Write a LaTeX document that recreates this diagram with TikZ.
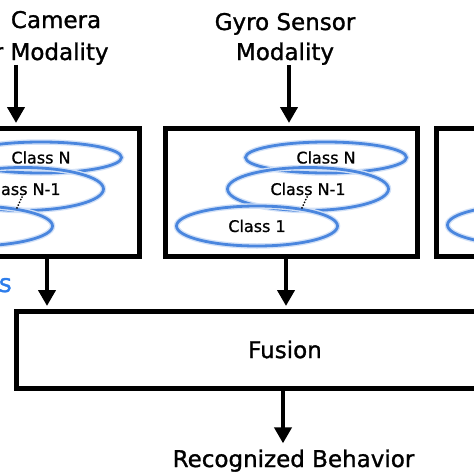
\documentclass[tikz,border=0pt]{standalone}
\usepackage{fontspec}
\setmainfont{DejaVu Sans}
\newfontfamily\heavyfont[FakeBold=1.2]{DejaVu Sans}
\newfontfamily\classfont[FakeBold=0.8]{DejaVu Sans}
\usetikzlibrary{shapes.geometric,arrows.meta}
\definecolor{clsblue}{RGB}{74,134,222}
\definecolor{txtblue}{RGB}{45,125,235}

\begin{document}
\begin{tikzpicture}[x=1pt, y=-1pt,
        big/.style={font=\heavyfont\fontsize{23}{28}\selectfont, inner sep=0pt},
        box/.style={draw=black, line width=5pt, minimum width=252pt, minimum height=128pt, inner sep=0pt},
        cls/.style={ellipse, draw=clsblue, line width=2.8pt, inner sep=0pt, minimum width=161pt,
            font=\classfont\fontsize{16}{18}\selectfont, preaction={draw=clsblue!25, line width=5.5pt}},
        arr/.style={line width=4.5pt, -{Triangle[length=16pt,width=17pt]}},
        dots/.style={line width=2pt, line cap=round, dash pattern=on 0pt off 3pt}]
    \begin{scope}
        \clip (0,0) rectangle (474,474);
        % modality labels
        \node[big, anchor=base west] (camtop) at (10.7,28) {Camera};
        \node[big, anchor=base west] (camlabel) at (-6.4,60) {r Modality};
        \node[big, anchor=base] (gyrotop) at (285,30) {Gyro Sensor};
        \node[big, anchor=base] (gyrolabel) at (285,60) {Modality};
        \node[big, anchor=base east, text=txtblue, font=\heavyfont\fontsize{25}{28}\selectfont] (clslabel) at (12,292) {s};

        % classifier boxes
        \node[box] (leftbox) at (13,192) {};
        \node[box] (midbox) at (291,192) {};
        \node[box] (rightbox) at (562,192) {};

        % classes, left box
        \node[cls, minimum height=31pt] (lN) at (41,157.5) {Class N};
        \node[cls, minimum height=43pt] (lNm) at (23,189) {Class N-1};
        \node[cls, minimum height=40pt] (lone) at (-28,226) {};
        \coordinate (ldot1) at (22,197);
        \coordinate (ldot2) at (17,208);
        \draw[dots] (ldot1) -- (ldot2);

        % classes, middle box
        \node[cls, minimum height=31pt] (mN) at (326,157.5) {Class N};
        \node[cls, minimum height=43pt] (mNm) at (308,189) {Class N-1};
        \node[cls, minimum height=40pt] (mone) at (257,226) {Class 1};
        \coordinate (mdot1) at (307,197);
        \coordinate (mdot2) at (302,208);
        \draw[dots] (mdot1) -- (mdot2);

        % classes, right box
        \node[cls, minimum height=40pt] (rone) at (528,225) {};

        % fusion
        \node[draw=black, line width=5pt, minimum width=538pt, minimum height=77pt, inner sep=0pt,
            font=\heavyfont\fontsize{23}{28}\selectfont] (fusion) at (285,349.5) {Fusion};
        \node[big, anchor=base] (result) at (293.5,467) {Recognized Behavior};

        % arrows
        \coordinate (camx) at (16,0);
        \coordinate (gyrox) at (289,0);
        \coordinate (lout) at (47,0);
        \coordinate (mout) at (286,0);
        \coordinate (fout) at (283,0);
        \draw[arr, shorten >=2.5pt] (camx |- camlabel.south) -- (camx |- leftbox.north);
        \draw[arr, shorten >=2.5pt] (gyrox |- gyrolabel.south) -- (gyrox |- midbox.north);
        \draw[arr, shorten >=2.5pt] (lout |- leftbox.south) -- (lout |- fusion.north);
        \draw[arr, shorten >=2.5pt] (mout |- midbox.south) -- (mout |- fusion.north);
        \draw[arr, shorten >=6pt] (fout |- fusion.south) -- (fout |- result.north);
    \end{scope}
    \pgfresetboundingbox
    \useasboundingbox (0,0) rectangle (474,474);
\end{tikzpicture}
\end{document}
